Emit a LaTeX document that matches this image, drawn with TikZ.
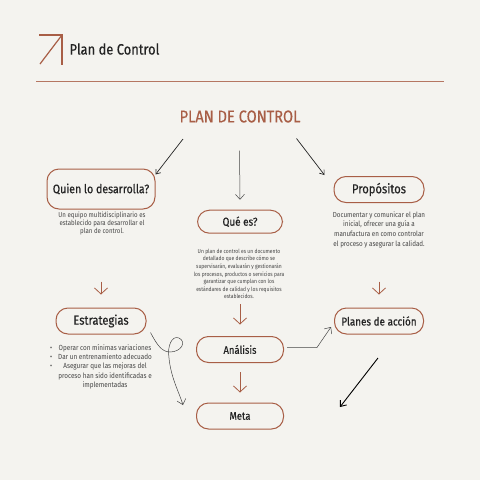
\documentclass[tikz,border=0pt]{standalone}
\usepackage{fontspec}
\setmainfont{Fira Sans}[FakeStretch=0.86]
\newfontfamily\labelfont{Fira Sans}[FakeStretch=0.86,FakeBold=0.4]
\usetikzlibrary{arrows.meta,positioning}
\definecolor{rust}{RGB}{168,94,70}
\definecolor{paper}{RGB}{244,243,239}
\definecolor{ink}{RGB}{35,35,35}
\definecolor{greytxt}{RGB}{70,70,70}
\begin{document}
\begin{tikzpicture}[x=1pt,y=-1pt]
        \tikzstyle{box}=[draw=rust, line width=1pt, rounded corners=12pt, text=ink, inner sep=0pt]
        \tikzstyle{desc}=[align=center, text=greytxt, inner sep=0pt]
        \tikzstyle{down}=[draw=rust, line width=0.8pt, -{Straight Barb[length=6pt,width=13pt]}]
        \tikzstyle{blk}=[draw=ink, line width=0.7pt, -{Straight Barb[length=4pt,width=6pt]}]
        \tikzstyle{gry}=[draw=greytxt, line width=0.5pt, -{Straight Barb[length=5pt,width=9pt]}]

        \fill[paper] (0,0) rectangle (480,480);

        % header
        \draw[rust, line width=1.2pt] (39,35) -- (62,35) -- (62,65);
        \draw[rust, line width=1.2pt] (40,64) -- (62,35);
        \node (hdr) [anchor=west, text=ink, font=\labelfont\fontsize{15}{15}\selectfont] at (66,49) {Plan de Control};
        \draw[rust!85, line width=0.6pt] (36,81) -- (444,81);
        \node (titulo) [text=rust, font=\labelfont\fontsize{17}{17}\selectfont] at (240,116.5) {PLAN DE CONTROL};

        % boxes
        \node (quien) [box, minimum width=108pt, minimum height=40pt, font=\labelfont\fontsize{12.3}{12.3}\selectfont] at (101,189) {Quien lo desarrolla?};
        \node (que) [box, minimum width=85pt, minimum height=23pt, font=\labelfont\fontsize{11.5}{11.5}\selectfont] at (240,221.7) {Qué es?};
        \node (prop) [box, minimum width=90pt, minimum height=26pt, font=\labelfont\fontsize{13}{13}\selectfont] at (379,189.5) {Propósitos};
        \node (estr) [box, minimum width=90pt, minimum height=26pt, font=\labelfont\fontsize{13}{13}\selectfont] at (101,321) {Estrategias};
        \node (plan) [box, minimum width=89pt, minimum height=26pt, font=\labelfont\fontsize{11.5}{11.5}\selectfont] at (379,321) {Planes de acción};
        \node (anal) [box, minimum width=87pt, minimum height=26pt, font=\labelfont\fontsize{11}{11}\selectfont] at (240,349.5) {Análisis};
        \node (meta) [box, minimum width=87pt, minimum height=26pt, font=\labelfont\fontsize{11}{11}\selectfont] at (240,416) {Meta};

        % texts
        \node (quienD) [desc, font=\fontsize{7.1}{8}\selectfont] at (102,223) {Un equipo multidisciplinario es\\establecido para desarrollar el\\plan de control.};
        \node (queD) [desc, font=\fontsize{5.8}{7.6}\selectfont] at (239,274) {Un plan de control es un documento\\detallado que describe cómo se\\supervisarán, evaluarán y gestionarán\\los procesos, productos o servicios para\\garantizar que cumplan con los\\estándares de calidad y los requisitos\\establecidos.};
        \node (propD) [desc, font=\fontsize{7.3}{9.7}\selectfont] at (379,229.5) {Documentar y comunicar el plan\\inicial, ofrecer una guía a\\manufactura en como controlar\\el proceso y asegurar la calidad.};
        \node (estrD) [desc, font=\fontsize{7.4}{9.4}\selectfont] at (101,367) {%
            \begin{tabular}{@{}l@{\hspace{6pt}}c@{}}
            • & Operar con mínimas variaciones\\
            • & Dar un entrenamiento adecuado\\
            • & Asegurar que las mejoras del\\
              & proceso han sido identificadas e\\
              & implementadas
            \end{tabular}};

        % connectors
        \coordinate (t1) at (183,139);
        \coordinate (t2) at (239.5,150.5);
        \coordinate (t3) at (296.5,138.5);
        \draw[blk] (t1) -- ([shift={(0,6)}]quien.north east);
        \draw[gry] (t2) -- ([yshift=10pt]que.north);
        \draw[blk] (t3) -- ([shift={(-9,-1)}]prop.north west);

        \draw[down] ([yshift=26pt]estr.north) -- ([yshift=13pt]estr.north);
        \draw[down] ([yshift=26pt]plan.north) -- ([yshift=13pt]plan.north);
        \draw[down] ([yshift=32pt]anal.north) -- ([yshift=11.5pt]anal.north);
        \draw[down] ([yshift=-9pt]anal.south) -- ([yshift=10pt]meta.north);

        \draw[gry] ([shift={(3,-2)}]anal.east) -- ++(30,0) -- ([shift={(-3,6)}]plan.west);

        \coordinate (p1) at (378,358);
        \coordinate (p2) at (340,407);
        \draw[draw=black, line width=0.9pt, -{Straight Barb[length=5pt,width=8pt]}] (p1) -- (p2);

        \draw[gry] ([shift={(4,-2)}]estr.south east) .. controls (157,345) and (162,352) .. (170,352)
            .. controls (181,352) and (187,342) .. (179,338)
            .. controls (172,335) and (167,346) .. (169,358)
            .. controls (171,378) and (179,392) .. ([shift={(-13,-11)}]meta.west);

\end{tikzpicture}
\end{document}
